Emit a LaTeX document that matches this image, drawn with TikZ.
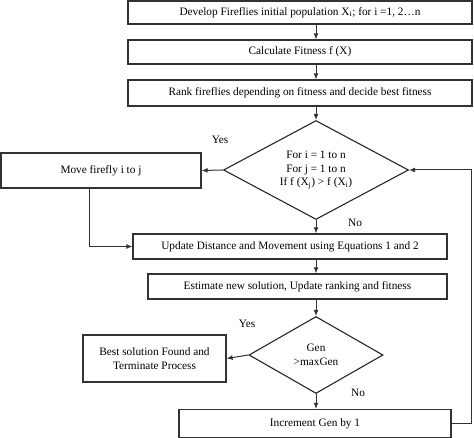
\documentclass[tikz,border=0pt]{standalone}
\usepackage{fontspec}
\setmainfont{Liberation Serif}
\usetikzlibrary{shapes.geometric,arrows.meta}
\begin{document}
\begin{tikzpicture}[x=1pt,y=-1pt,font=\fontsize{11.3}{13.5}\selectfont,
    box/.style={draw=black!80,line width=1.2pt,rectangle,inner sep=0pt,align=center},
    test/.style={draw=black!85,line width=1.1pt,diamond,inner sep=0pt,align=center},
    flow/.style={draw=black!80,line width=1pt,-{Latex[length=6pt,width=5pt]}}]
      \useasboundingbox (0,0) rectangle (474,438);
      \draw
        (300,12.5) node[box,minimum width=344pt,minimum height=23pt] (dev){Develop Fireflies initial population X\textsubscript{i}; for i =1, 2…n}
        (300,52) node[box,minimum width=344pt,minimum height=24pt] (fit){Calculate Fitness f (X)}
        (300,93) node[box,minimum width=344pt,minimum height=26pt] (rank){Rank fireflies depending on fitness and decide best fitness}
        (316,170) node[test,aspect=1.87,minimum width=185pt,minimum height=99pt] (cond){For i = 1 to n\\For j = 1 to n\\If f (X\textsubscript{j}) > f (X\textsubscript{i})}
        (101,170.5) node[box,minimum width=200pt,minimum height=35pt] (move){Move firefly i to j}
        (290,246.5) node[box,minimum width=314pt,minimum height=25pt] (upd){Update Distance and Movement using Equations 1 and 2}
        (297.5,286.5) node[box,minimum width=299pt,minimum height=25pt] (est){Estimate new solution, Update ranking and fitness}
        (316,355) node[test,aspect=1.74,minimum width=134pt,minimum height=77pt] (gen){Gen\\>maxGen}
        (154.5,358.5) node[box,minimum width=143pt,minimum height=47pt] (best){Best solution Found and\\Terminate Process}
        (315,423.5) node[box,minimum width=272pt,minimum height=28pt] (inc){Increment Gen by 1};
      \draw
        (220,140) node (yes1){Yes}
        (355,223) node (no1){No}
        (247,324) node (yes2){Yes}
        (358,393) node (no2){No};
      \coordinate (back) at (471,423.5);
      \begin{scope}[flow]
        \draw (cond.north |- dev.south) to (cond.north |- fit.north);
        \draw (cond.north |- fit.south) to (cond.north |- rank.north);
        \draw (cond.north |- rank.south) to (cond.north);
        \draw (cond.west) to (move.east);
        \draw (cond.south) to (cond.south |- upd.north);
        \draw ([xshift=-12pt]move.south) |- (upd.west);
        \draw (cond.south |- upd.south) to (cond.south |- est.north);
        \draw (gen.north |- est.south) to (gen.north);
        \draw (gen.west) to (best.east);
        \draw (gen.south) to (gen.south |- inc.north);
        \draw (inc.east) -- (back) |- (cond.east);
      \end{scope}
    \end{tikzpicture}
\end{document}
